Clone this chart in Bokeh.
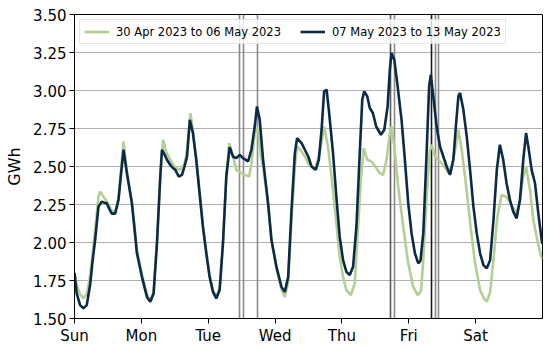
from bokeh.plotting import figure
from bokeh.models import Range1d, FixedTicker, NumeralTickFormatter
from bokeh.embed import file_html
from bokeh.resources import INLINE

# ---- data (hours since Sunday 00:00, GWh) ----
week1_label = "30 Apr 2023 to 06 May 2023"
week1_hours = [0, 0.8, 2.0, 3.2, 4.4, 5.6, 6.5, 7.4, 8.6, 9.2, 10.1, 11.6, 12.5, 13.4, 14.6, 15.8, 16.7, 17.6,
               18.8, 20.6, 21.5, 22.4, 24.2, 26, 27.2, 28.4, 29.6, 30.8, 31.8, 32.8, 34.4, 36.2, 38, 39.5, 40.4,
               41.6, 42.5, 43.7, 44.9, 46.1, 47.3, 48.5, 49.7, 50.9, 52.1, 53.3, 54.5, 55.5, 56.9, 58.1, 59.9,
               61.2, 62.7, 63.5, 64.7, 65.9, 66.9, 67.7, 69.5, 70.7, 72.5, 74.3, 75.5, 76.7, 77.9, 79.1, 79.9,
               81.5, 82.7, 83.9, 85.1, 86.3, 88, 89.6, 91, 92.4, 94, 95.2, 96.4, 97.6, 99.2, 100.6, 101.6, 102.8,
               103.8, 105.1, 106.6, 108, 109.6, 110.8, 112, 113.2, 113.8, 114.8, 116.2, 118, 119.8, 121.6, 123.2,
               124.4, 125.2, 126.4, 127.6, 128.2, 129.4, 130.6, 132.4, 134.2, 135.4, 136.9, 137.8, 139, 140.2,
               141.4, 142.6, 143.8, 145.6, 147, 148, 149.2, 150.4, 151.8, 153.3, 154.9, 156.1, 157.5, 158.7,
               159.9, 161.1, 162.1, 163.5, 164.7, 165.9, 167.4, 168]
week1_gwh = [1.80, 1.72, 1.66, 1.634, 1.66, 1.78, 1.92, 2.08, 2.30, 2.335, 2.31, 2.27, 2.24, 2.21, 2.20, 2.30, 2.48,
             2.665, 2.47, 2.27, 2.11, 1.95, 1.79, 1.66, 1.62, 1.675, 2.00, 2.45, 2.676, 2.60, 2.544, 2.49, 2.478,
             2.52, 2.60, 2.85, 2.74, 2.56, 2.33, 2.11, 1.94, 1.78, 1.685, 1.645, 1.70, 2.00, 2.44, 2.654, 2.566,
             2.478, 2.456, 2.445, 2.434, 2.52, 2.72, 2.753, 2.566, 2.50, 2.25, 2.02, 1.83, 1.69, 1.642, 1.74,
             2.15, 2.50, 2.632, 2.60, 2.566, 2.52, 2.50, 2.478, 2.588, 2.763, 2.632, 2.412, 2.126, 1.906, 1.774,
             1.687, 1.654, 1.731, 2.038, 2.412, 2.621, 2.544, 2.533, 2.50, 2.456, 2.445, 2.544, 2.72, 2.763,
             2.632, 2.368, 2.104, 1.863, 1.708, 1.654, 1.68, 1.884, 2.302, 2.61, 2.643, 2.566, 2.544, 2.511,
             2.456, 2.50, 2.632, 2.742, 2.61, 2.434, 2.236, 2.038, 1.863, 1.687, 1.632, 1.61, 1.675, 1.884,
             2.17, 2.313, 2.302, 2.269, 2.225, 2.192, 2.28, 2.434, 2.50, 2.346, 2.148, 2.038, 1.917, 1.89]

week2_label = "07 May 2023 to 13 May 2023"
week2_hours = [0, 0.8, 2.0, 3.2, 4.4, 5.6, 6.5, 7.4, 8.6, 9.8, 10.7, 11.6, 12.5, 13.4, 14.6, 15.8, 16.7, 17.6,
               18.8, 20.6, 21.5, 22.4, 24.2, 26, 27.2, 28.4, 29.6, 30.8, 31.4, 32.3, 33.2, 34.4, 35.3, 36.2, 37.4,
               38.6, 39.5, 40.4, 41.4, 42.5, 43.7, 44.9, 46.1, 47.3, 48.5, 49.7, 50.9, 52.1, 53.3, 54.5, 55.7,
               56.9, 58.1, 59.3, 60.5, 61.4, 62.3, 63.5, 64.7, 65.5, 66.5, 67.7, 69.5, 70.7, 72.5, 74.3, 75.5,
               76.7, 77.9, 79.1, 79.9, 81.5, 82.7, 83.9, 85.1, 86.6, 87.7, 88.7, 89.6, 90.5, 91.3, 92.8, 94,
               95.2, 96.4, 97.6, 98.8, 100, 101.2, 102.4, 103.3, 104, 105.1, 106, 107.1, 108.3, 110, 111.2,
               112.4, 113.2, 113.8, 114.8, 116, 117.4, 118.6, 119.8, 121, 122.2, 123.4, 124.2, 125.2, 126.4,
               127.3, 127.9, 128.8, 130, 131.2, 132.4, 133.6, 134.8, 136, 136.9, 137.8, 138.4, 139.6, 140.8,
               142, 143.2, 144.4, 145.6, 146.8, 148, 149.2, 150.4, 151.6, 152.7, 153.9, 155.1, 156.3, 157.5,
               158.7, 159.9, 161.1, 162.1, 162.9, 164.1, 165.3, 166.5, 167.7, 168]
week2_gwh = [1.80, 1.665, 1.588, 1.568, 1.588, 1.72, 1.88, 2.016, 2.236, 2.269, 2.262, 2.258, 2.22, 2.19, 2.19,
             2.28, 2.45, 2.61, 2.456, 2.258, 2.10, 1.93, 1.774, 1.642, 1.61, 1.665, 1.995, 2.434, 2.61, 2.58,
             2.544, 2.51, 2.49, 2.478, 2.434, 2.445, 2.50, 2.566, 2.807, 2.72, 2.544, 2.324, 2.104, 1.93, 1.774,
             1.675, 1.632, 1.687, 1.995, 2.434, 2.627, 2.566, 2.555, 2.577, 2.555, 2.545, 2.533, 2.61, 2.763,
             2.895, 2.807, 2.544, 2.258, 2.016, 1.84, 1.708, 1.675, 1.774, 2.214, 2.588, 2.687, 2.654, 2.61,
             2.566, 2.50, 2.478, 2.544, 2.742, 2.994, 3.005, 2.873, 2.588, 2.302, 2.038, 1.884, 1.807, 1.786,
             1.84, 2.104, 2.588, 2.94, 2.994, 2.961, 2.885, 2.852, 2.763, 2.709, 2.742, 2.895, 3.137, 3.247,
             3.203, 3.027, 2.807, 2.544, 2.258, 2.06, 1.929, 1.863, 1.88, 2.06, 2.588, 3.027, 3.104, 2.961,
             2.763, 2.632, 2.566, 2.50, 2.445, 2.544, 2.763, 2.961, 2.984, 2.873, 2.698, 2.478, 2.236, 2.06,
             1.929, 1.851, 1.83, 1.884, 2.148, 2.478, 2.643, 2.544, 2.39, 2.28, 2.203, 2.159, 2.28, 2.544,
             2.72, 2.632, 2.478, 2.39, 2.192, 2.016, 1.99]

marker_hours = [59.4, 60.6, 65.8, 113.5, 114.9, 128.0, 129.6, 130.8]
marker_colors = ["#8a8a8a", "#8a8a8a", "#8a8a8a", "#5a5a5a", "#8a8a8a", "#1a1a1a", "#8a8a8a", "#8a8a8a"]

day_ticks = [0, 24, 48, 72, 96, 120, 144]
day_labels = ["Sun", "Mon", "Tue", "Wed", "Thu", "Fri", "Sat"]
y_ticks = [1.5, 1.75, 2.0, 2.25, 2.5, 2.75, 3.0, 3.25, 3.5]

FONT = "DejaVu Sans"

p = figure(width=548, height=348, output_backend="svg", toolbar_location=None,
           x_range=Range1d(0, 168), y_range=Range1d(1.5, 3.5),
           min_border_left=74, min_border_top=14, min_border_right=6, min_border_bottom=30)

p.vspan(x=marker_hours, line_color=marker_colors, line_width=1.6)

p.line(week1_hours, week1_gwh, line_color="#b3cf93", line_width=2.6, legend_label=week1_label)
p.line(week2_hours, week2_gwh, line_color="#0a2a48", line_width=2.6, legend_label=week2_label)

p.xaxis.ticker = FixedTicker(ticks=day_ticks)
p.xaxis.major_label_overrides = {t: l for t, l in zip(day_ticks, day_labels)}
p.yaxis.ticker = FixedTicker(ticks=y_ticks)
p.yaxis.formatter = NumeralTickFormatter(format="0.00")
p.yaxis.axis_label = "GWh"
p.yaxis.axis_label_text_font_style = "normal"
p.yaxis.axis_label_text_font_size = "16px"
p.yaxis.axis_label_text_font = FONT
p.yaxis.axis_label_text_color = "black"
p.yaxis.axis_label_standoff = 6

for ax in (p.xaxis, p.yaxis):
    ax.major_label_text_font = FONT
    ax.major_label_text_font_size = "15px"
    ax.major_label_text_color = "black"
    ax.axis_line_color = "black"
    ax.major_tick_line_color = "black"
    ax.major_tick_out = 5
    ax.major_tick_in = 0
    ax.minor_tick_line_color = None
    ax.major_label_standoff = 3

p.xgrid.visible = False
p.ygrid.grid_line_color = "#b0b0b0"
p.ygrid.grid_line_width = 1.2
p.outline_line_color = "black"
p.outline_line_width = 1
p.outline_line_alpha = 1

lg = p.legend[0]
lg.location = "top_left"
lg.orientation = "horizontal"
lg.margin = 5
lg.padding = 4
lg.spacing = 19
lg.label_standoff = 7
lg.glyph_width = 25
lg.glyph_height = 15
lg.label_height = 15
lg.label_text_font = FONT
lg.label_text_font_size = "11.5px"
lg.label_text_color = "black"
lg.background_fill_alpha = 0.8
lg.border_line_color = "#cccccc"
lg.border_line_width = 1

open("out.html", "w").write(file_html(p, INLINE))
